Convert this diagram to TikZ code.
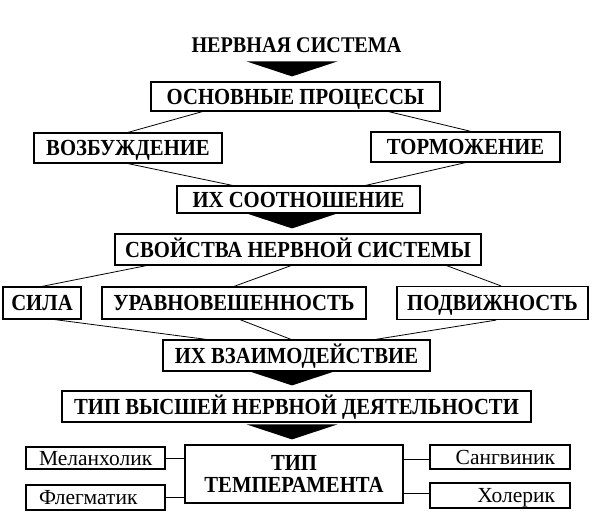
\documentclass[tikz,border=0pt]{standalone}
\usepackage{fontspec}
\setmainfont{Liberation Serif}
\newfontfamily\boxfont{Liberation Serif}[FakeStretch=0.9]
\usepackage{tikz}
\usetikzlibrary{calc}

\begin{document}
\begin{tikzpicture}[x=1pt,y=-1pt,
                box/.style={draw, line width=1.2pt, inner sep=0pt, minimum height=30pt,
                    font=\boxfont\bfseries\fontsize{23}{22}\selectfont, text height=15.2pt, text depth=0pt},
                kind/.style={draw, line width=1.1pt, inner ysep=0pt, minimum height=24pt,
                    font=\fontsize{21.5}{24}\selectfont, text height=14.3pt, text depth=0pt},
                link/.style={line width=0.8pt}]
                \useasboundingbox (0,0) rectangle (593,528);
                \coordinate (axis) at (292,0);

                \node[font=\boxfont\bfseries\fontsize{22.4}{24}\selectfont, inner sep=0pt, text height=14.4pt, text depth=0pt] (nerv) at (296.5,45) {НЕРВНАЯ СИСТЕМА};
                \node[box, minimum width=289pt, minimum height=29pt] (proc) at (295.5,96.5) {ОСНОВНЫЕ ПРОЦЕССЫ};
                \node[box, minimum width=188pt] (exc) at (128,148) {ВОЗБУЖДЕНИЕ};
                \node[box, minimum width=189pt] (inh) at (465.5,147) {ТОРМОЖЕНИЕ};
                \node[box, minimum width=243pt, minimum height=27pt] (rel) at (298.5,199.5) {ИХ СООТНОШЕНИЕ};
                \node[box, minimum width=366pt, minimum height=31pt] (props) at (298,249.5) {СВОЙСТВА НЕРВНОЙ СИСТЕМЫ};
                \node[box, minimum width=78pt, minimum height=32pt] (str) at (42,303) {СИЛА};
                \node[box, minimum width=264pt, minimum height=32pt] (bal) at (234,303) {УРАВНОВЕШЕННОСТЬ};
                \node[box, minimum width=191pt, minimum height=33pt] (mob) at (492.5,303) {ПОДВИЖНОСТЬ};
                \node[box, minimum width=267pt, minimum height=31pt] (inter) at (296.5,355.5) {ИХ ВЗАИМОДЕЙСТВИЕ};
                \node[box, minimum width=469pt, minimum height=31pt] (high) at (296.5,406.5) {ТИП ВЫСШЕЙ НЕРВНОЙ ДЕЯТЕЛЬНОСТИ};
                \node[box, minimum width=218pt, minimum height=58pt, align=center, text height=, text depth=] (temp) at (294,474) {ТИП\\ТЕМПЕРАМЕНТА};

                \node[kind, inner xsep=13pt, text width=113pt, align=left, minimum height=22pt] (mel) at (95.5,458) {Меланхолик};
                \node[kind, inner xsep=13pt, text width=113pt, align=left, minimum height=25pt] (flg) at (95.5,497.5) {Флегматик};
                \node[kind, inner xsep=15pt, text width=110pt, align=right] (sang) at (500,457) {Сангвиник};
                \node[kind, inner xsep=15pt, text width=110pt, align=right, minimum height=25pt] (chol) at (500,495.5) {Холерик};

                \foreach \n in {proc,props,high,temp}{
                    \fill ($(\n.north -| axis)+(-45.5,-20)$) -- ($(\n.north -| axis)+(45.5,-20)$) -- ($(\n.north -| axis)+(0,-5)$) -- cycle;
                }

                \draw[link] ($(proc.south west)+(52,0)$) -- (exc.north);
                \draw[link] ($(proc.south east)+(-52,0)$) -- ($(inh.north)+(5.5,0)$);
                \draw[link] (exc.south) -- ($(rel.north west)+(56,0)$);
                \draw[link] (inh.south) -- ($(rel.north east)+(-55,0)$);

                \draw[link] ($(props.south west)+(32,0)$) -- (str.north);
                \draw[link] ($(props.south)+(-7,0)$) -- (bal.north);
                \draw[link] ($(props.south east)+(-35,0)$) -- ($(mob.north)+(8.5,0)$);
                \draw[link] ($(str.south)+(13,0)$) -- ($(inter.north west)+(44,0)$);
                \draw[link] ($(bal.south)+(6,0)$) -- ($(inter.north)+(-5.5,0)$);
                \draw[link] ($(mob.south)+(3.5,0)$) -- ($(inter.north east)+(-55,0)$);

                \draw[link] (mel.east) -- (mel.east -| temp.west);
                \draw[link] (flg.east) -- (flg.east -| temp.west);
                \draw[link] ($(sang.west)+(0,2)$) -- ($(sang.west -| temp.east)+(0,2)$);
                \draw[link] ($(chol.west)+(0,-2.5)$) -- ($(chol.west -| temp.east)+(0,-2.5)$);
            \end{tikzpicture}
\end{document}
